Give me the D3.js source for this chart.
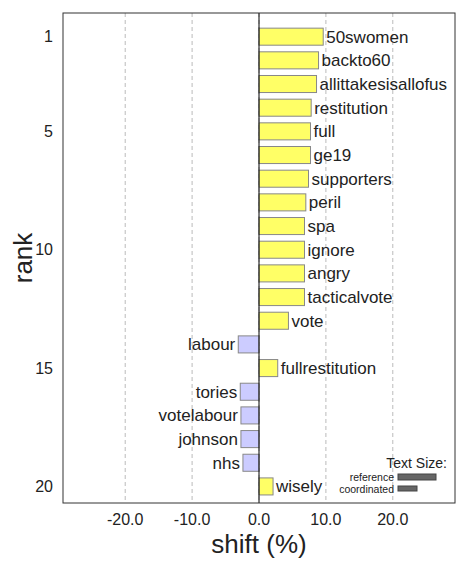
<!DOCTYPE html>
<html><head><meta charset="utf-8">
<script src="https://cdn.jsdelivr.net/npm/d3@7"></script>
<style>body{margin:0;background:#fff}text{font-family:"Liberation Sans",Arial,sans-serif}</style>
</head><body><svg id="c" width="466" height="564"></svg>
<script>
const words=["50swomen","backto60","allittakesisallofus","restitution","full","ge19","supporters","peril","spa","ignore","angry","tacticalvote","vote","labour","fullrestitution","tories","votelabour","johnson","nhs","wisely"];
const shifts=[9.6,8.9,8.6,7.8,7.7,7.7,7.4,7.0,6.8,6.8,6.8,6.8,4.4,-3.1,2.8,-2.8,-2.7,-2.7,-2.4,2.1];
const xTicks=[-20,-10,0,10,20];
const yTicks=[1,5,10,15,20];
const svg=d3.select("#c");
const L=63,R=455,T=13,B=503;
const x=d3.scaleLinear().domain([-29.3,29.3]).range([L,R]);
const y=d3.scaleLinear().domain([0,20.7]).range([T,B]);
const g=svg.append("g");
xTicks.forEach(t=>g.append("line").attr("x1",x(t)).attr("x2",x(t)).attr("y1",T).attr("y2",B).attr("stroke","#bbb").attr("stroke-dasharray","4,3").attr("stroke-width",1));
const h=(y(1)-y(0))*0.72;
words.forEach((w,i)=>{
 const r=i+1,v=shifts[i];
 g.append("rect").attr("x",x(Math.min(0,v))).attr("y",y(r)-h/2).attr("width",Math.abs(x(v)-x(0))).attr("height",h)
  .attr("fill",v>0?"#ffff66":"#ccccff").attr("stroke","#888").attr("stroke-width",1);
 g.append("text").attr("x",v>0?x(v)+3:x(v)-3).attr("y",y(r)).attr("dy","0.35em").attr("text-anchor",v>0?"start":"end")
  .attr("font-size",17).attr("fill","#222").text(w);
});
g.append("line").attr("x1",x(0)).attr("x2",x(0)).attr("y1",T).attr("y2",B).attr("stroke","#000");
g.append("rect").attr("x",L).attr("y",T).attr("width",R-L).attr("height",B-T).attr("fill","none").attr("stroke","#333");
xTicks.forEach(t=>g.append("text").attr("x",x(t)).attr("y",B+22).attr("text-anchor","middle").attr("font-size",16).attr("fill","#222").text(t.toFixed(1)));
yTicks.forEach(t=>g.append("text").attr("x",L-10).attr("y",y(t)).attr("dy","0.35em").attr("text-anchor","end").attr("font-size",16).attr("fill","#222").text(t));
svg.append("text").attr("x",x(0)).attr("y",553).attr("text-anchor","middle").attr("font-size",26).attr("fill","#222").text("shift (%)");
svg.append("text").attr("transform",`translate(32,${(T+B)/2}) rotate(-90)`).attr("text-anchor","middle").attr("font-size",26).attr("fill","#222").text("rank");
svg.append("text").attr("x",447).attr("y",468).attr("text-anchor","end").attr("font-size",14).attr("fill","#222").text("Text Size:");
svg.append("text").attr("x",394).attr("y",481).attr("text-anchor","end").attr("font-size",10.5).attr("fill","#222").text("reference");
svg.append("text").attr("x",394).attr("y",493).attr("text-anchor","end").attr("font-size",10.5).attr("fill","#222").text("coordinated");
svg.append("rect").attr("x",398).attr("y",474).attr("width",38).attr("height",6).attr("fill","#666").attr("stroke","#444");
svg.append("rect").attr("x",398).attr("y",486).attr("width",19).attr("height",5).attr("fill","#666").attr("stroke","#444");
</script></body></html>
